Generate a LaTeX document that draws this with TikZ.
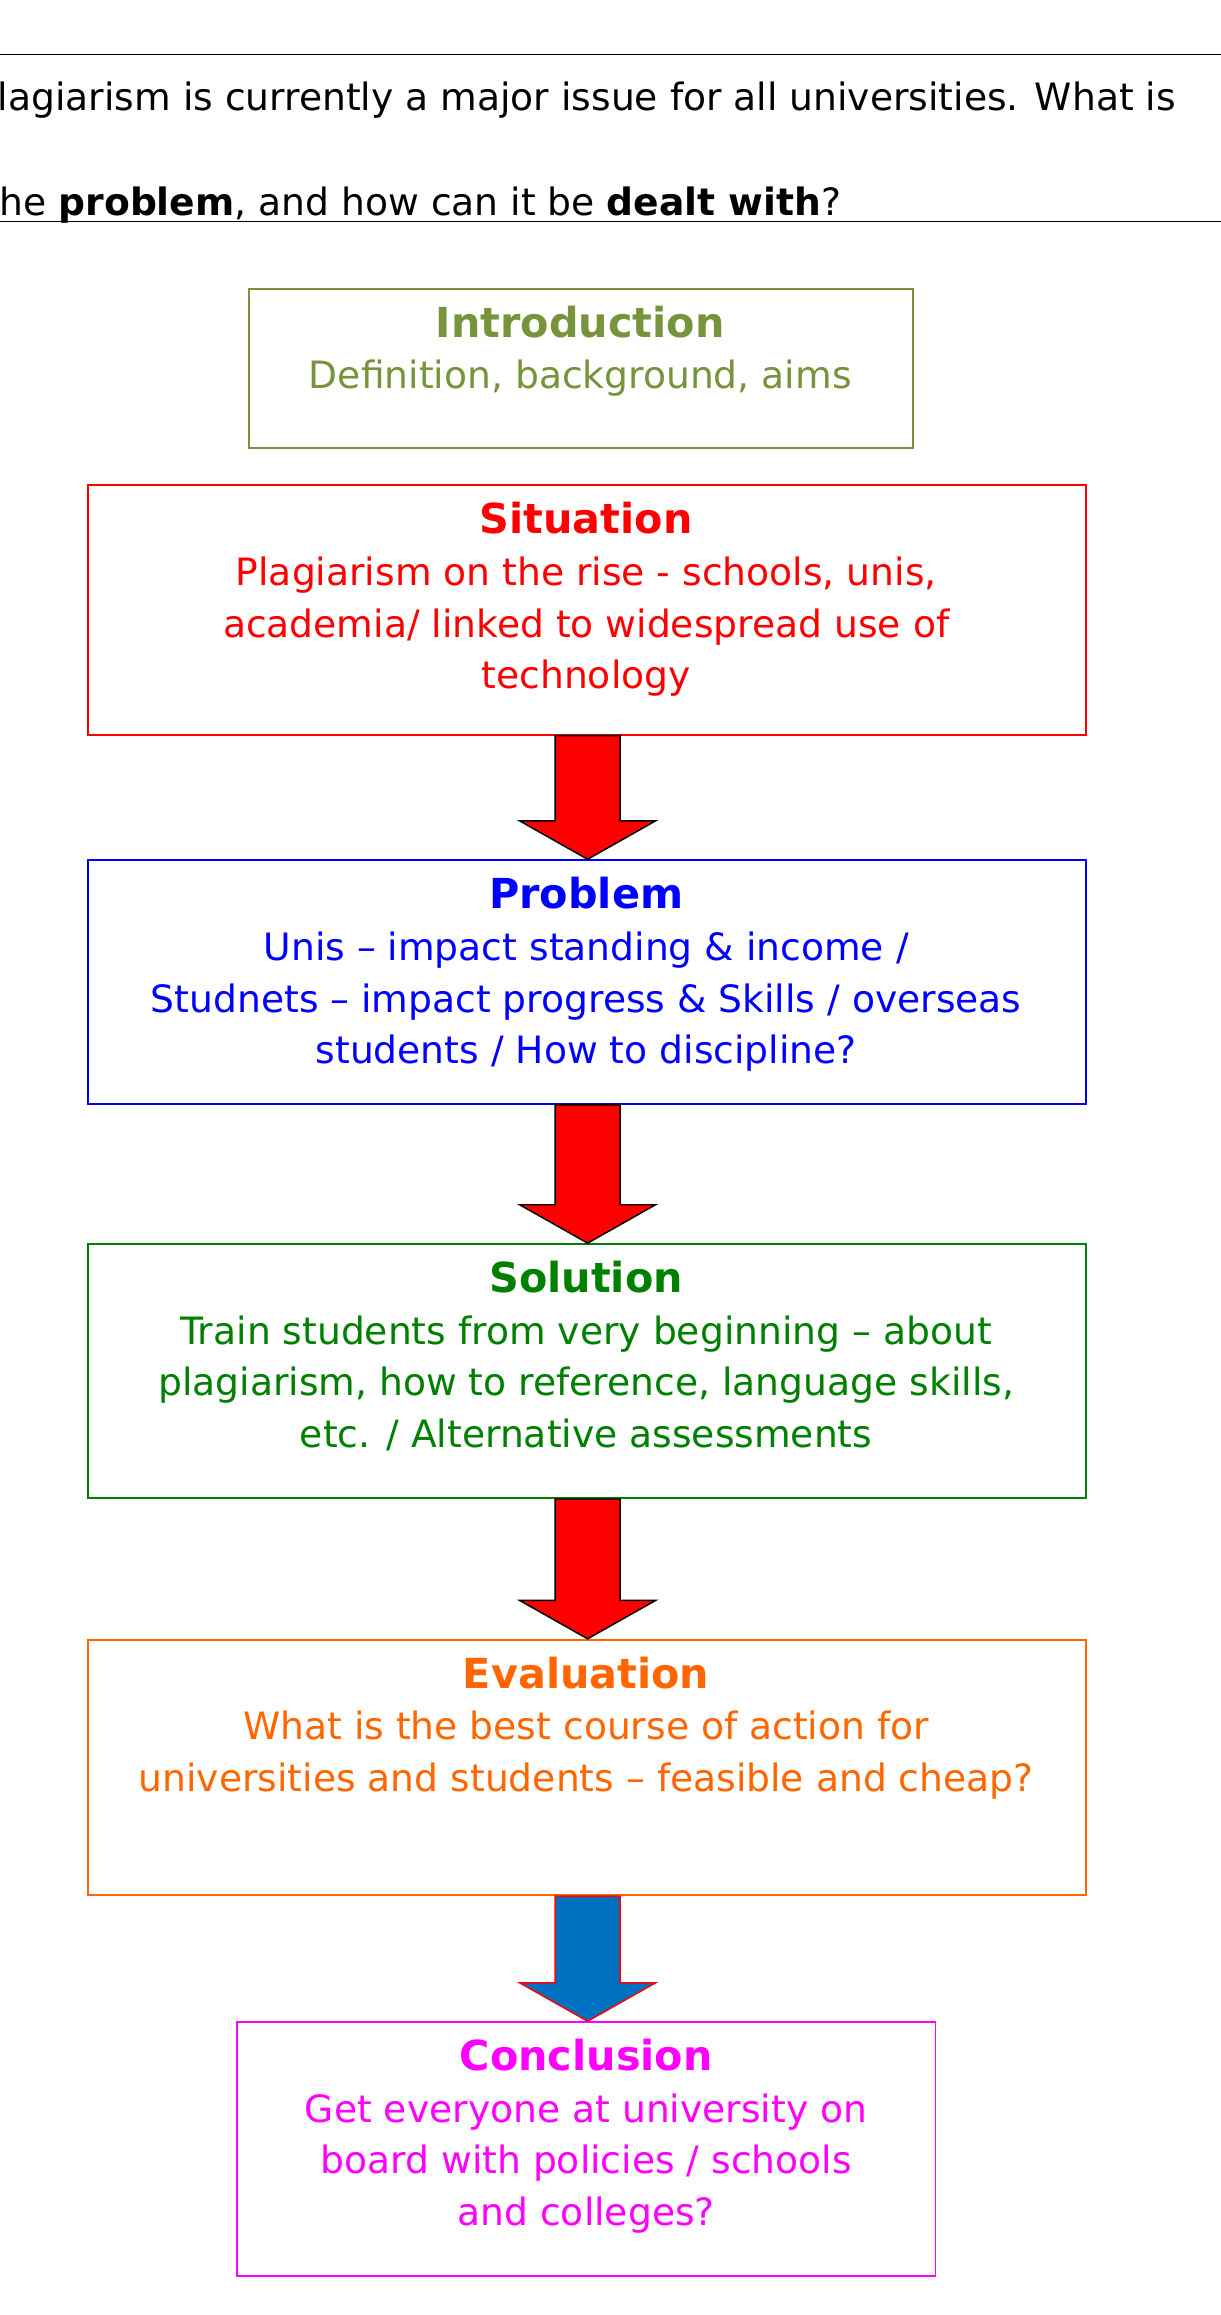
\documentclass[tikz,border=0pt]{standalone}
\usepackage{fontspec}
\setmainfont{DejaVu Sans}
\usetikzlibrary{calc}
\definecolor{cintro}{RGB}{119,147,60}
\definecolor{csit}{RGB}{255,0,0}
\definecolor{cprob}{RGB}{0,0,255}
\definecolor{csol}{RGB}{0,128,0}
\definecolor{ceval}{RGB}{255,102,0}
\definecolor{cconc}{RGB}{255,0,255}
\definecolor{cblue}{RGB}{0,112,192}
\newcommand\myttl{\bfseries\fontsize{28}{36}\selectfont}
\begin{document}
\begin{tikzpicture}[x=1pt,y=-1pt,
  box/.style={draw,line width=1.3pt,anchor=north west,inner sep=0pt},
  txt/.style={anchor=north,align=center,font=\fontsize{25.5}{35}\selectfont,inner sep=0pt}]
\clip (0,0) rectangle (827,1568);
\useasboundingbox (0,0) rectangle (827,1568);
\fill[white] (0,0) rectangle (827,1568);
\draw[line width=1pt] (0,37) coordinate (ta) -- (827,37) coordinate (tb);
\draw[line width=1pt] (0,150) coordinate (ba) -- (827,150) coordinate (bb);
\node[anchor=base west,inner sep=0pt,font=\fontsize{25.5}{33}\selectfont] (q1) at (-17,75) {Plagiarism is currently a major issue for all universities. What is};
\node[anchor=base west,inner sep=0pt,font=\fontsize{25.5}{33}\selectfont] (q2) at (-16,146) {The \textbf{problem}, and how can it be \textbf{dealt with}?};
% boxes
\node[box,draw=cintro,minimum width=450pt,minimum height=108pt] (intro) at (168,195) {};
\node[box,draw=csit,minimum width=676pt,minimum height=169pt] (sit) at (59,328) {};
\node[box,draw=cprob,minimum width=676pt,minimum height=165pt] (prob) at (59,582) {};
\node[box,draw=csol,minimum width=676pt,minimum height=172pt] (sol) at (59,842) {};
\node[box,draw=ceval,minimum width=676pt,minimum height=173pt] (eval) at (59,1110) {};
\node[box,draw=cconc,minimum width=473pt,minimum height=172pt] (conc) at (160,1369) {};
% texts
\node[txt,text=cintro] (tintro) at (393,207) {{\myttl Introduction}\\Definition, background, aims};
\node[txt,text=csit] (tsit) at (397,340) {{\myttl Situation}\\Plagiarism on the rise - schools, unis,\\academia/ linked to widespread use of\\technology};
\node[txt,text=cprob] (tprob) at (397,594) {{\myttl Problem}\\Unis – impact standing \& income /\\Studnets – impact progress \& Skills / overseas\\students / How to discipline?};
\node[txt,text=csol] (tsol) at (397,854) {{\myttl Solution}\\Train students from very beginning – about\\plagiarism, how to reference, language skills,\\etc. / Alternative assessments};
\node[txt,text=ceval] (teval) at (397,1122) {{\myttl Evaluation}\\What is the best course of action for\\universities and students – feasible and cheap?};
\node[txt,text=cconc] (tconc) at (397,1381) {{\myttl Conclusion}\\Get everyone at university on\\board with policies / schools\\and colleges?};
% arrows
\foreach \a/\b/\c/\d in {sit/prob/red/black, prob/sol/red/black, sol/eval/red/black, eval/conc/cblue/red}{
  \path let \p1=(\a.south), \p2=(\b.north) in
    coordinate (s) at (398,\y1) coordinate (t) at (398,\y2);
  \filldraw[fill=\c,draw=\d,line width=1pt,line join=miter]
    ($(s)+(-22,0)$) -- ($(t)+(-22,-26)$) -- ($(t)+(-46,-26)$) -- (t)
    -- ($(t)+(46,-26)$) -- ($(t)+(22,-26)$) -- ($(s)+(22,0)$) -- cycle;
}
\end{tikzpicture}
\end{document}
